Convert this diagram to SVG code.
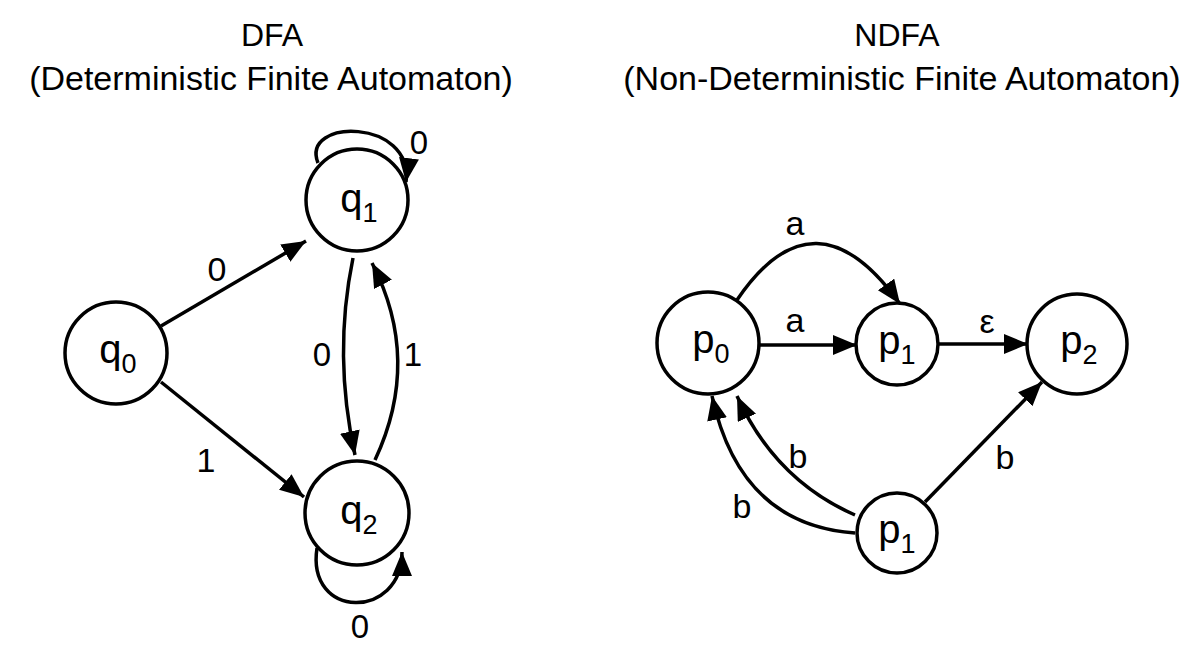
<svg xmlns="http://www.w3.org/2000/svg" width="1200" height="655" viewBox="0 0 1200 655">
<style>
.node{fill:#fff;stroke:#000;stroke-width:3.5}
.edge{fill:none;stroke:#000;stroke-width:3.5;marker-end:url(#arr)}
.lbl{font-family:"Liberation Sans",Arial,sans-serif;font-size:40px;text-anchor:middle;fill:#000}
.el{font-family:"Liberation Sans",Arial,sans-serif;font-size:34px;text-anchor:middle;fill:#000}
.el2{font-family:"Liberation Sans",Arial,sans-serif;font-size:33px;text-anchor:middle;fill:#000}
.t1{font-family:"Liberation Sans",Arial,sans-serif;font-size:32px;text-anchor:middle;fill:#000}
.t2{font-family:"Liberation Sans",Arial,sans-serif;font-size:34px;text-anchor:middle;fill:#000}
.sub{font-size:27px}
</style>
<defs>
<marker id="arr" markerUnits="userSpaceOnUse" markerWidth="28" markerHeight="24" refX="24" refY="10" orient="auto">
<path d="M0,0 L24,10 L0,20 Z" fill="#000"/>
</marker>
</defs>
<rect width="1200" height="655" fill="#fff"/>
<g id="titles">
<text class="t1" x="272" y="46">DFA</text>
<text class="t2" x="271" y="90">(Deterministic Finite Automaton)</text>
<text class="t1" x="897" y="46">NDFA</text>
<text class="t2" x="902" y="90">(Non-Deterministic Finite Automaton)</text>
</g>
<g id="connectors">
<path class="edge" d="M161,326 L306,241"/>
<path class="edge" d="M161,382 L304,497"/>
<path class="edge" d="M318,163 C300,118 414,118 406,182"/>
<path class="edge" d="M317,548 C306,620 402,620 402,552"/>
<path class="edge" d="M353,258 Q333,355 355,455"/>
<path class="edge" d="M375,460 Q422,360 372,263"/>
<path class="edge" d="M759,345 L857,345"/>
<path class="edge" d="M737,300 Q815,185 900,304"/>
<path class="edge" d="M938,344 L1028,344"/>
<path class="edge" d="M855,533 Q740,525 712,396"/>
<path class="edge" d="M855,515 Q775,480 737,396"/>
<path class="edge" d="M925,502 L1042,382"/>
<text class="el" x="217" y="281">0</text>
<text class="el" x="206" y="472">1</text>
<text class="el2" x="419" y="154">0</text>
<text class="el2" x="360" y="638">0</text>
<text class="el2" x="322" y="366">0</text>
<text class="el2" x="413" y="366">1</text>
<text class="el" x="795" y="235">a</text>
<text class="el" x="795" y="332">a</text>
<text class="el" x="987" y="333">ε</text>
<text class="el" x="798" y="468">b</text>
<text class="el" x="742" y="518">b</text>
<text class="el" x="1005" y="469">b</text>
</g>
<g id="q0"><circle class="node" cx="116" cy="353" r="51"/><text class="lbl" x="118" y="363">q<tspan class="sub" dy="10">0</tspan></text></g>
<g id="q1"><circle class="node" cx="357" cy="200" r="51"/><text class="lbl" x="359" y="212">q<tspan class="sub" dy="10">1</tspan></text></g>
<g id="q2"><circle class="node" cx="357" cy="513" r="52"/><text class="lbl" x="359" y="524">q<tspan class="sub" dy="10">2</tspan></text></g>
<g id="p0"><circle class="node" cx="708" cy="343" r="51"/><text class="lbl" x="711" y="353">p<tspan class="sub" dy="10">0</tspan></text></g>
<g id="p1top"><circle class="node" cx="897" cy="344" r="41"/><text class="lbl" x="897" y="354">p<tspan class="sub" dy="10">1</tspan></text></g>
<g id="p2"><circle class="node" cx="1077" cy="344" r="50"/><text class="lbl" x="1079" y="354">p<tspan class="sub" dy="10">2</tspan></text></g>
<g id="p1bottom"><circle class="node" cx="897" cy="533" r="40"/><text class="lbl" x="897" y="543">p<tspan class="sub" dy="10">1</tspan></text></g>
</svg>
